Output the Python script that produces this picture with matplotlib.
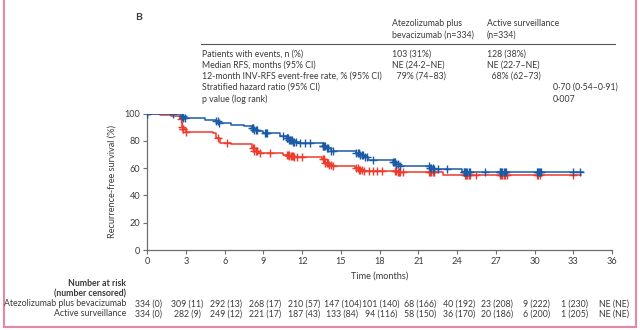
import numpy as np
import matplotlib
matplotlib.use("Agg")
import matplotlib.pyplot as plt
from matplotlib.lines import Line2D
import matplotlib.transforms as mtransforms

plt.rcParams['font.family'] = ['Lato', 'DejaVu Sans']

# ---------------- data ----------------
arm_names = ["Atezolizumab plus bevacizumab", "Active surveillance"]

blue_times = [0, 1.0, 2.6, 2.8, 3.5, 4.5, 5.3, 5.5, 6.5, 7.5, 8.1, 8.3, 8.6, 9.0,
              10.3, 10.8, 11.0, 11.3, 11.8, 13.6, 13.9, 14.2, 16.2, 16.5, 16.8,
              17.1, 19.0, 19.3, 19.6, 21.9, 22.2, 24.4, 33.75]
blue_surv = [100, 99.7, 98.5, 97.0, 96.5, 95.5, 94.5, 93.0, 92.0, 91.0, 89.8, 88.0,
             87.0, 85.5, 83.5, 82.0, 80.7, 79.5, 78.3, 76.5, 74.5, 72.8, 71.2, 69.5,
             68.0, 66.2, 64.8, 63.0, 61.3, 60.2, 59.2, 57.4, 57.4]

red_times = [0, 1.0, 1.8, 2.5, 2.65, 2.75, 3.0, 5.1, 5.3, 5.6, 6.5, 8.1, 8.3, 8.6,
             10.5, 11.0, 11.4, 13.5, 13.8, 14.1, 14.4, 16.1, 16.4, 16.8, 19.4,
             22.9, 33.6]
red_surv = [100, 99.0, 98.0, 96.0, 90.5, 88.5, 86.8, 85.6, 82.0, 78.3, 77.5, 75.0,
            73.0, 71.3, 70.0, 69.0, 68.0, 66.5, 64.0, 62.0, 61.3, 60.0, 58.8, 57.6,
            57.2, 55.0, 55.0]

blue_censor = [0, 2.0, 2.7, 2.75, 2.8, 2.9, 5.35, 5.45, 5.55, 8.1, 8.15, 8.2, 8.3,
               8.4, 8.5, 9.1, 9.2, 9.3, 10.5, 10.8, 10.85, 10.9, 11.0, 11.05, 11.1,
               11.2, 11.3, 11.4, 11.5, 11.8, 12.2, 12.6, 13.6, 13.65, 13.7, 13.8,
               13.9, 14.0, 14.2, 14.4, 16.2, 16.3, 16.4, 16.5, 16.6, 16.7, 16.9,
               17.0, 17.5, 19.0, 19.1, 19.2, 19.3, 19.4, 19.6, 21.8, 21.9, 22.0,
               22.1, 22.2, 22.5, 23.2, 24.5, 24.55, 24.6, 24.7, 24.8, 24.9, 25.0,
               26.2, 27.3, 27.35, 27.4, 27.5, 27.6, 27.7, 27.75, 30.2, 30.3, 30.35,
               30.4, 30.5, 33.0, 33.5]
red_censor = [0, 2.6, 2.7, 2.75, 2.8, 3.0, 5.5, 6.2, 8.2, 8.25, 8.3, 8.4, 8.5, 8.7,
              9.5, 10.8, 10.9, 10.95, 11.0, 11.1, 11.2, 11.3, 11.4, 11.6, 12.0,
              13.6, 13.7, 13.8, 13.9, 14.0, 14.1, 14.2, 14.4, 16.2, 16.3, 16.4,
              16.5, 16.6, 16.8, 17.2, 17.5, 17.8, 18.2, 19.2, 19.3, 19.4, 19.5,
              19.6, 19.8, 21.8, 21.9, 22.0, 22.1, 22.2, 24.6, 24.7, 24.8, 24.9,
              25.0, 25.5, 27.3, 27.4, 27.5, 27.6, 27.7, 27.9, 30.2, 30.3, 30.4,
              33.0]

x_ticks = [0, 3, 6, 9, 12, 15, 18, 21, 24, 27, 30, 33, 36]
y_ticks = [0, 20, 40, 60, 80, 100]

risk_blue = ["334 (0)", "309 (11)", "292 (13)", "268 (17)", "210 (57)", "147 (104)",
             "101 (140)", "68 (166)", "40 (192)", "23 (208)", "9 (222)", "1 (230)",
             "NE (NE)"]
risk_red = ["334 (0)", "282 (9)", "249 (12)", "221 (17)", "187 (43)", "133 (84)",
            "94 (116)", "58 (150)", "36 (170)", "20 (186)", "6 (200)", "1 (205)",
            "NE (NE)"]

table_rows = ["Patients with events, n (%)", "Median RFS, months (95% CI)",
              "12-month INV-RFS event-free rate, % (95% CI)",
              "Stratified hazard ratio (95% CI)", "p value (log rank)"]
table_col1 = ["103 (31%)", "NE (24·2–NE)", "  79% (74–83)", "", ""]
table_col2 = ["128 (38%)", "NE (22·7–NE)", "  68% (62–73)", "", ""]
table_col3 = ["", "", "", "0·70 (0·54–0·91)", "0·007"]

BLUE = "#1b5ba6"
RED = "#ee3b2d"
AXC = "#6d6d6d"
TXT = "#3a3a3a"
FS = 6.3

W, H = 640, 330
fig = plt.figure(figsize=(W / 100, H / 100), dpi=100)

def fx(x):
    return x / W

def fy(y):
    return 1 - y / H

ax = fig.add_axes([fx(147.3), fy(250), fx(612) - fx(147.3), fy(113.7) - fy(250)])

def step_val(times, surv, t):
    idx = np.searchsorted(times, t, side='right') - 1
    return np.array(surv)[idx]

for times, surv, cens, col in [(red_times, red_surv, red_censor, RED),
                               (blue_times, blue_surv, blue_censor, BLUE)]:
    ax.step(times, surv, where='post', color=col, lw=1.1, zorder=3)
    cy = step_val(np.array(times), surv, np.array(cens))
    ax.plot(cens, cy, ls='none', marker='+', ms=5.5, mew=1.0, color=col, zorder=4)

ax.set_xlim(0, 36)
ax.set_ylim(0, 100)
ax.set_xticks(x_ticks)
ax.set_yticks(y_ticks)
ax.spines['top'].set_visible(False)
ax.spines['right'].set_visible(False)
for s in ['left', 'bottom']:
    ax.spines[s].set_color(AXC)
    ax.spines[s].set_linewidth(0.9)
ax.tick_params(axis='both', direction='out', length=3, width=0.8, color=AXC,
               labelsize=FS + 0.3, labelcolor=TXT, pad=2)
ax.set_xlabel("Time (months)", fontsize=FS + 0.3, color=TXT, labelpad=4)
ax.set_ylabel("Recurrence-free survival (%)", fontsize=FS + 0.3, color=TXT, labelpad=6)

# panel letter
fig.text(fx(135), fy(17), "B", fontsize=7.5, fontweight='bold', color=TXT, va='center')

# table header
fig.text(fx(392), fy(24), "Atezolizumab plus", fontsize=FS, color=TXT, va='center')
fig.text(fx(392), fy(35), "bevacizumab (n=334)", fontsize=FS, color=TXT, va='center')
fig.text(fx(487), fy(24), "Active surveillance", fontsize=FS, color=TXT, va='center')
fig.text(fx(487), fy(35), "(n=334)", fontsize=FS, color=TXT, va='center')
fig.add_artist(Line2D([fx(201), fx(615)], [fy(44), fy(44)], color="#555555", lw=0.8))

row_y = [54, 65, 76, 87.5, 99]
for yy, lab, c1, c2, c3 in zip(row_y, table_rows, table_col1, table_col2, table_col3):
    fig.text(fx(202), fy(yy), lab, fontsize=FS, color=TXT, va='center')
    fig.text(fx(392), fy(yy), c1, fontsize=FS, color=TXT, va='center')
    fig.text(fx(487), fy(yy), c2, fontsize=FS, color=TXT, va='center')
    if c3:
        fig.text(fx(553), fy(yy), c3, fontsize=FS, color=TXT, va='center')

# number at risk
fig.text(fx(126), fy(283), "Number at risk", fontsize=FS, fontweight='bold',
         color=TXT, ha='right', va='center')
fig.text(fx(126), fy(294), "(number censored)", fontsize=FS, fontweight='bold',
         color=TXT, ha='right', va='center')
trans = mtransforms.blended_transform_factory(ax.transData, fig.transFigure)
for yy, name, vals in [(304, arm_names[0], risk_blue), (314, arm_names[1], risk_red)]:
    fig.text(fx(126), fy(yy), name, fontsize=FS, color=TXT, ha='right', va='center')
    for xt, v in zip(x_ticks, vals):
        ax.text(xt + 0.12, fy(yy), v, transform=trans, fontsize=FS, color=TXT,
                ha='center', va='center', clip_on=False)

# pink frame
PINK = "#e389a6"
fig.add_artist(Line2D([fx(3.5), fx(3.5)], [fy(0), fy(327)], color=PINK, lw=1.5))
fig.add_artist(Line2D([fx(636), fx(636)], [fy(0), fy(327)], color=PINK, lw=1.5))
fig.add_artist(Line2D([fx(3.5), fx(636)], [fy(327), fy(327)], color=PINK, lw=1.5))

fig.savefig("out.png", dpi=100)
